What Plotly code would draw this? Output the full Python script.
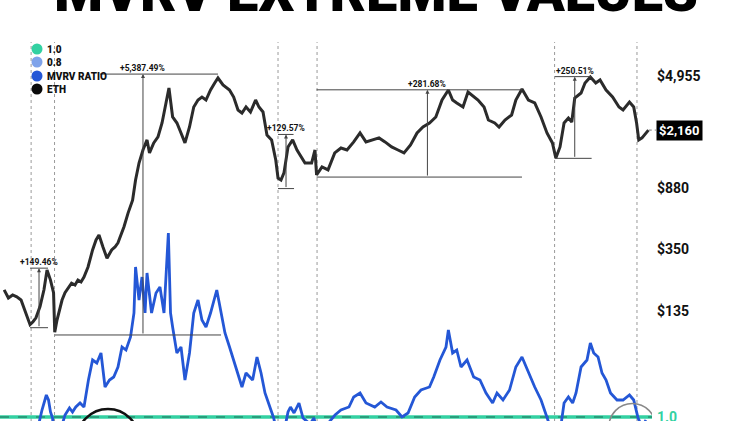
import math
import plotly.graph_objects as go

# ---------------- data ----------------
eth_year = [2019.682, 2019.725, 2019.768, 2019.810, 2019.853, 2019.893, 2019.923, 2019.944, 2019.974, 2020.004,
            2020.045, 2020.085, 2020.116, 2020.151, 2020.182, 2020.194, 2020.217, 2020.237, 2020.268, 2020.298,
            2020.328, 2020.364, 2020.399, 2020.429, 2020.460, 2020.490, 2020.531, 2020.577, 2020.612, 2020.642,
            2020.682, 2020.723, 2020.770, 2020.804, 2020.834, 2020.865, 2020.895, 2020.936, 2020.982, 2021.012,
            2021.047, 2021.087, 2021.128, 2021.153, 2021.196, 2021.239, 2021.280, 2021.320, 2021.350, 2021.387,
            2021.431, 2021.472, 2021.512, 2021.558, 2021.601, 2021.644, 2021.684, 2021.725, 2021.771, 2021.813,
            2021.846, 2021.897, 2021.963, 2022.005, 2022.049, 2022.089, 2022.130, 2022.175, 2022.227, 2022.261,
            2022.302, 2022.342, 2022.389, 2022.431, 2022.454, 2022.484, 2022.514, 2022.555, 2022.602, 2022.646,
            2022.687, 2022.727, 2022.794, 2022.828, 2022.844, 2022.899, 2022.960, 2023.028, 2023.091, 2023.152,
            2023.220, 2023.284, 2023.344, 2023.411, 2023.476, 2023.537, 2023.604, 2023.668, 2023.729, 2023.795,
            2023.861, 2023.921, 2023.987, 2024.051, 2024.114, 2024.178, 2024.221, 2024.263, 2024.326, 2024.377,
            2024.434, 2024.478, 2024.539, 2024.583, 2024.647, 2024.691, 2024.751, 2024.818, 2024.861, 2024.923,
            2024.988, 2025.052, 2025.116, 2025.176, 2025.231, 2025.266, 2025.308, 2025.349, 2025.393, 2025.427,
            2025.457, 2025.521, 2025.561, 2025.615, 2025.670, 2025.713, 2025.774, 2025.840, 2025.905, 2025.946,
            2026.011, 2026.054, 2026.083, 2026.105, 2026.138, 2026.178, 2026.203]
eth_price = [186, 164, 172, 167, 159, 136, 121, 109, 114, 121,
             144, 186, 252, 216, 178, 97, 117, 130, 159, 178,
             191, 206, 200, 216, 210, 226, 264, 343, 400, 432,
             359, 302, 343, 359, 383, 432, 490, 604, 736, 1004,
             1303, 1591, 1857, 1521, 1774, 1945, 2408, 3274, 4122, 2641,
             2408, 2066, 1774, 2265, 3077, 3428, 3589, 3428, 3997, 4450,
             4805, 4316, 3997, 3589, 2938, 2808, 3077, 2851, 3428, 3077,
             2851, 2004, 1857, 1365, 1035, 1004, 1119, 1667, 1857, 1591,
             1429, 1303, 1303, 1591, 1084, 1227, 1172, 1521, 1641, 1591,
             1802, 2066, 1802, 1857, 1916, 1802, 1667, 1591, 1521, 1718,
             2066, 2265, 2408, 2641, 3428, 3997, 3428, 3274, 3077, 3876,
             3589, 3428, 3077, 2522, 2408, 2265, 2522, 2723, 3428, 4058,
             3428, 3274, 2641, 2066, 1774, 1406, 1667, 2408, 2601, 2446,
             3535, 3817, 4450, 4880, 4450, 4660, 3997, 3589, 3077, 2938,
             3323, 3077, 2408, 1857, 1916, 2066, 2160]

mvrv_year = [2019.640, 2019.741, 2019.842, 2019.944, 2020.025, 2020.065, 2020.109, 2020.131, 2020.151, 2020.172,
             2020.194, 2020.247, 2020.298, 2020.343, 2020.374, 2020.407, 2020.450, 2020.490, 2020.535, 2020.577,
             2020.620, 2020.662, 2020.703, 2020.748, 2020.791, 2020.834, 2020.875, 2020.915, 2020.961, 2020.996,
             2021.012, 2021.047, 2021.077, 2021.108, 2021.128, 2021.174, 2021.219, 2021.259, 2021.300, 2021.344,
             2021.366, 2021.387, 2021.430, 2021.472, 2021.512, 2021.558, 2021.601, 2021.644, 2021.684, 2021.725,
             2021.771, 2021.834, 2021.877, 2021.917, 2021.963, 2022.005, 2022.049, 2022.089, 2022.130, 2022.197,
             2022.241, 2022.282, 2022.322, 2022.368, 2022.410, 2022.454, 2022.514, 2022.555, 2022.580, 2022.616,
             2022.666, 2022.707, 2022.778, 2022.818, 2022.849, 2022.929, 2023.031, 2023.091, 2023.172, 2023.220,
             2023.284, 2023.344, 2023.433, 2023.496, 2023.557, 2023.648, 2023.709, 2023.770, 2023.837, 2023.901,
             2023.987, 2024.030, 2024.093, 2024.154, 2024.178, 2024.221, 2024.263, 2024.306, 2024.367, 2024.434,
             2024.498, 2024.559, 2024.626, 2024.670, 2024.731, 2024.797, 2024.861, 2024.923, 2024.988, 2025.052,
             2025.116, 2025.180, 2025.227, 2025.268, 2025.318, 2025.349, 2025.393, 2025.436, 2025.470, 2025.521,
             2025.581, 2025.615, 2025.649, 2025.693, 2025.733, 2025.774, 2025.819, 2025.885, 2025.946, 2026.011,
             2026.054, 2026.098, 2026.138, 2026.178]
mvrv_value = [0.92, 0.90, 0.88, 0.85, 0.90, 1.07, 1.22, 1.17, 1.05, 0.99,
              0.72, 0.85, 1.02, 1.09, 1.05, 1.10, 1.14, 1.10, 1.37, 1.57,
              1.54, 1.64, 1.30, 1.37, 1.40, 1.50, 1.70, 1.67, 1.80, 2.04,
              2.50, 2.17, 2.40, 2.04, 2.44, 2.04, 2.24, 2.30, 2.04, 2.84,
              2.04, 1.90, 1.64, 1.70, 1.37, 1.64, 2.04, 2.17, 1.97, 1.90,
              2.04, 2.27, 2.04, 1.84, 1.70, 1.57, 1.44, 1.30, 1.44, 1.37,
              1.60, 1.44, 1.24, 1.10, 0.99, 0.80, 0.85, 1.05, 1.10, 1.04,
              1.14, 0.99, 0.93, 0.99, 0.85, 0.90, 1.02, 1.07, 1.10, 1.20,
              1.24, 1.14, 1.10, 1.15, 1.10, 1.07, 1.00, 1.04, 1.20, 1.27,
              1.30, 1.40, 1.57, 1.70, 1.87, 1.64, 1.67, 1.50, 1.57, 1.40,
              1.37, 1.24, 1.14, 1.24, 1.17, 1.27, 1.50, 1.60, 1.44, 1.30,
              1.17, 1.00, 0.85, 0.80, 0.92, 1.14, 1.20, 1.14, 1.24, 1.50,
              1.57, 1.74, 1.64, 1.60, 1.44, 1.37, 1.24, 1.17, 1.17, 1.22,
              1.17, 0.99, 0.90, 0.97]

mvrv_levels = [1.0, 0.8]
legend_names = ["1.0", "0.8", "MVRV RATIO", "ETH"]

price_ticks = [4955, 880, 350, 135]
price_tick_text = ["$4,955", "$880", "$350", "$135"]
last_price = 2160
last_price_text = "$2,160"

# price moves between MVRV extremes
move_labels = ["+149.46%", "+5,387.49%", "+129.57%", "+281.68%", "+250.51%"]
move_pct = [149.46, 5387.49, 129.57, 281.68, 250.51]
move_low = [104, 93, 880, 1050, 1400]
move_top_x = [(2019.944, 2020.126), (2020.652, 2021.846), (2022.454, 2022.611), (2022.844, 2024.923), (2025.257, 2025.628)]
move_bot_x = [(2019.944, 2020.126), (2020.194, 2021.877), (2022.454, 2022.616), (2022.844, 2024.923), (2025.257, 2025.628)]
move_arrow_x = [2020.035, 2021.087, 2022.535, 2023.966, 2025.457]

# dates where MVRV touched extreme values
extreme_dates = [2019.955, 2020.192, 2022.454, 2022.849, 2025.253, 2026.087]

# ---------------- style ----------------
FONT = "Roboto, Liberation Sans, Arial, sans-serif"
TEAL = "#33d1a2"
LIGHT_BLUE = "#7fa3ea"
BLUE = "#2457d6"
ETH_C = "#2b2b2b"
X_RANGE = [2019.64, 2026.239]
PLOT_W = 652

fig = go.Figure()

# MVRV level lines
fig.add_trace(go.Scatter(x=X_RANGE, y=[mvrv_levels[1]] * 2, yaxis="y2", mode="lines",
                         line=dict(color=LIGHT_BLUE, width=2), name=legend_names[1], hoverinfo="skip"))
fig.add_trace(go.Scatter(x=X_RANGE, y=[mvrv_levels[0]] * 2, yaxis="y2", mode="lines",
                         line=dict(color=TEAL, width=3.5), name=legend_names[0], hoverinfo="skip"))
fig.add_trace(go.Scatter(x=X_RANGE, y=[mvrv_levels[0]] * 2, yaxis="y2", mode="lines",
                         line=dict(color="#1f6b55", width=1, dash="dash"), showlegend=False, hoverinfo="skip"))

# MVRV ratio
fig.add_trace(go.Scatter(x=mvrv_year, y=mvrv_value, yaxis="y2", mode="lines",
                         line=dict(color=BLUE, width=2.8), name=legend_names[2]))
# ETH price
fig.add_trace(go.Scatter(x=eth_year, y=eth_price, yaxis="y", mode="lines",
                         line=dict(color=ETH_C, width=3), name=legend_names[3]))

shapes = []
annotations = []

# vertical dotted markers
for d in extreme_dates:
    shapes.append(dict(type="line", xref="x", yref="paper", x0=d, x1=d, y0=0, y1=0.9,
                       line=dict(color="#9a9a9a", width=1, dash="dot"), layer="below"))

# move annotations
for lab, pct, low, tx, bx, ax_ in zip(move_labels, move_pct, move_low, move_top_x, move_bot_x, move_arrow_x):
    high = low * (1 + pct / 100.0)
    shapes.append(dict(type="line", xref="x", yref="y", x0=tx[0], x1=tx[1], y0=high, y1=high,
                       line=dict(color="#444", width=1)))
    shapes.append(dict(type="line", xref="x", yref="y", x0=bx[0], x1=bx[1], y0=low, y1=low,
                       line=dict(color="#444", width=1)))
    annotations.append(dict(x=ax_, y=math.log10(high), ax=ax_, ay=math.log10(low), xref="x", yref="y",
                            axref="x", ayref="y", text="", showarrow=True, arrowhead=2, arrowsize=0.8,
                            arrowwidth=1, arrowcolor="#444", standoff=0, startstandoff=0))
    annotations.append(dict(x=ax_, y=math.log10(high), xref="x", yref="y", text=lab, showarrow=False,
                            yanchor="bottom", xanchor="center", yshift=-1,
                            font=dict(family=FONT, size=8.5, color="#111", weight="bold")))

# last price box
annotations.append(dict(x=1, y=math.log10(last_price), xref="paper", yref="y", xanchor="left", xshift=4,
                        text=last_price_text, showarrow=False, bgcolor="#000", borderpad=2,
                        font=dict(family=FONT, size=13, color="#fff", weight="bold")))
shapes.append(dict(type="line", xref="paper", yref="y", x0=0.995, x1=1.006, y0=last_price, y1=last_price,
                   line=dict(color="#777", width=1, dash="dot")))

# compact legend
leg_colors = [TEAL, LIGHT_BLUE, BLUE, "#0a0a0a"]
leg_y_px = [49, 62, 76, 89]
for name, col, ypx in zip(legend_names, leg_colors, leg_y_px):
    yp = (421 - ypx) / 421
    shapes.append(dict(type="circle", xref="paper", yref="paper", xsizemode="pixel", ysizemode="pixel",
                       xanchor=37 / PLOT_W, yanchor=yp, x0=-5.5, x1=5.5, y0=-5.5, y1=5.5,
                       fillcolor=col, line=dict(width=0)))
    annotations.append(dict(x=45 / PLOT_W, y=yp, xref="paper", yref="paper", xanchor="left", yanchor="middle",
                            text=name, showarrow=False,
                            font=dict(family=FONT, size=10, color="#111", weight=900)))

# highlight circles around MVRV extremes
shapes.append(dict(type="circle", xref="x", yref="y2", xsizemode="pixel", ysizemode="pixel",
                   xanchor=2020.733, yanchor=0.77, x0=-31, x1=31, y0=-31, y1=31,
                   line=dict(color="#111", width=2.5)))
shapes.append(dict(type="circle", xref="x", yref="y2", xsizemode="pixel", ysizemode="pixel",
                   xanchor=2026.04, yanchor=0.90, x0=-23.5, x1=23.5, y0=-23.5, y1=23.5,
                   line=dict(color="#888", width=1.5)))

# title (cropped at top, as in the source image)
annotations.append(dict(x=376 / PLOT_W, y=(421 + 8) / 421, xref="paper", yref="paper", xanchor="center",
                        yanchor="middle", text="MVRV EXTREME VALUES", showarrow=False,
                        font=dict(family=FONT, size=56, color="#000", weight=900)))

fig.update_layout(
    width=750, height=421,
    margin=dict(l=0, r=750 - PLOT_W, t=0, b=0),
    paper_bgcolor="white", plot_bgcolor="white",
    showlegend=False,
    xaxis=dict(range=X_RANGE, visible=False),
    yaxis=dict(type="log", range=[1.395, 4.2017], side="right", tickvals=price_ticks, ticktext=price_tick_text,
               showgrid=False, zeroline=False, showline=False, ticks="", automargin=False,
               ticklabelstandoff=4, ticklabeloverflow="allow",
               tickfont=dict(family=FONT, size=14, color="#111", weight="bold")),
    yaxis2=dict(overlaying="y", side="right", range=[0.96, 5.17], tickvals=[mvrv_levels[0]],
                ticktext=["1.0"], showgrid=False, zeroline=False, showline=False, ticks="",
                automargin=False, ticklabelstandoff=4, ticklabeloverflow="allow",
                tickfont=dict(family=FONT, size=14, color=TEAL, weight="bold")),
    shapes=shapes, annotations=annotations,
)

fig.write_html("out.html", config={"displayModeBar": False},
               post_script="document.body.style.margin='0';document.body.style.padding='0';"
                           "document.body.style.overflow='hidden';")
